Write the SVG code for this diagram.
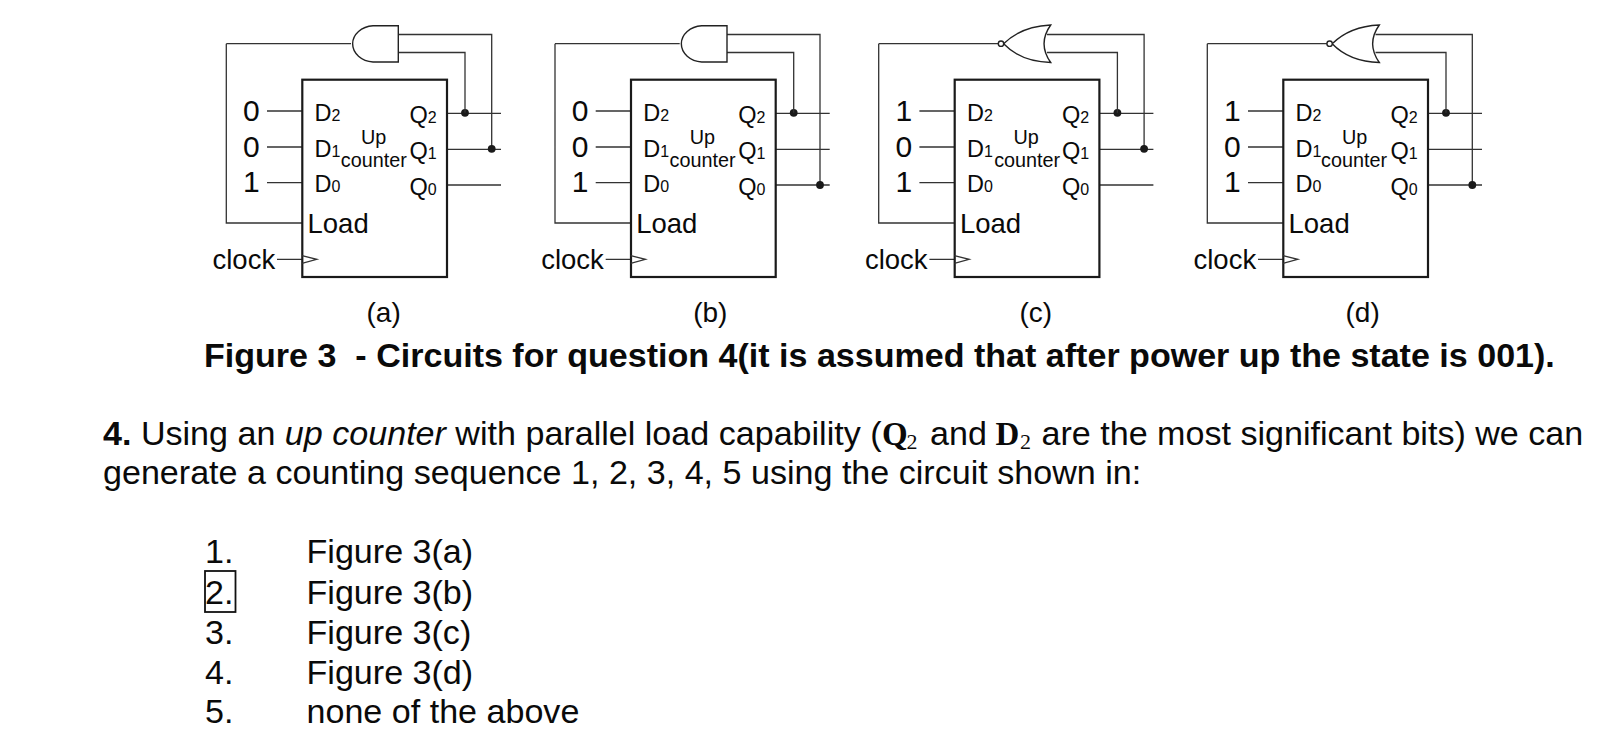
<svg xmlns="http://www.w3.org/2000/svg" width="1615" height="738" viewBox="0 0 1615 738">
<style>
text{font-family:"Liberation Sans",Arial,sans-serif;fill:#0a0a0a}
.w{fill:none;stroke:#333;stroke-width:1.3}
.g{fill:#fff;stroke:#222;stroke-width:1.4}
.box{fill:#fff;stroke:#1a1a1a;stroke-width:2.2}
.dot{fill:#1a1a1a}
.bit{font-size:30px}
.pin{font-size:23.5px}
.pin tspan{font-size:16px}
.load{font-size:27.5px}
.mid{font-size:19.8px}
.cap{font-size:28px}
.title{font-size:34.05px;font-weight:700}
.body{font-size:34.1px}
.ser{font-family:"Liberation Serif","Times New Roman",serif;font-weight:700;font-size:33px}
.sub{font-family:"Liberation Serif","Times New Roman",serif;font-size:22px}
</style>
<defs>
<g id="wires-common">
<path class="w" d="M277 259.3H302M267 111H302M267 147H302M267 182.7H302M447 113.3H501M447 149.3H501M447 185H501M302 223H226.3V43.7"/>
<circle class="dot" cx="465" cy="112.8" r="3.9"/>
</g>
<path id="and-gate" class="g" d="M398.3 25.7H373A22 18.2 0 0 0 373 62H398.3Z"/>
<path id="nor-gate" class="g" d="M351.2 43.8C362 33 377 26 398.3 25Q385 43.7 398.3 62.5C377 62 362 55 351.2 43.8Z"/>
</defs>

<g id="connectors">
<g><use href="#wires-common"/><path class="w" d="M226.3 43.7H351M398 34.5H491.7V148.8M398 52.5H465V112.8"/><circle class="dot" cx="491.7" cy="148.8" r="3.9"/></g>
<g transform="translate(328.7,0)"><use href="#wires-common"/><path class="w" d="M226.3 43.7H351M398 34.5H491.3V185M398 52.5H465V112.8"/><circle class="dot" cx="491.3" cy="185" r="3.9"/></g>
<g transform="translate(652.4,0)"><use href="#wires-common"/><path class="w" d="M226.3 43.7H346M394.5 34.5H491.7V148.8M394.5 52.5H465V112.8"/><circle class="dot" cx="491.7" cy="148.8" r="3.9"/></g>
<g transform="translate(981,0)"><use href="#wires-common"/><path class="w" d="M226.3 43.7H346M394.5 34.5H491.3V185M394.5 52.5H465V112.8"/><circle class="dot" cx="491.3" cy="185" r="3.9"/></g>
</g>

<g id="gate-a"><use href="#and-gate"/></g>
<g id="gate-b" transform="translate(328.7,0)"><use href="#and-gate"/></g>
<g id="gate-c" transform="translate(652.4,0)"><use href="#nor-gate"/><circle class="g" cx="348.6" cy="43.7" r="2.7"/></g>
<g id="gate-d" transform="translate(981,0)"><use href="#nor-gate"/><circle class="g" cx="348.6" cy="43.7" r="2.7"/></g>

<g id="counter-a">
<rect class="box" x="302.3" y="79.7" width="144.7" height="197.3"/>
<path class="w" d="M302 255.7L316.7 259.3L302 263.3"/>
<text class="bit" x="243" y="120.5">0</text><text class="bit" x="243" y="156.5">0</text><text class="bit" x="243" y="192">1</text>
<text class="pin" x="314.6" y="120.7">D<tspan>2</tspan></text><text class="pin" x="314.6" y="156.7">D<tspan>1</tspan></text><text class="pin" x="314.6" y="192.4">D<tspan>0</tspan></text>
<text class="pin" x="409.5" y="123">Q<tspan>2</tspan></text><text class="pin" x="409.5" y="159">Q<tspan>1</tspan></text><text class="pin" x="409.5" y="195">Q<tspan>0</tspan></text>
<text class="mid" x="361" y="144">Up</text><text class="mid" x="340.8" y="166.7">counter</text>
<text class="load" x="307.5" y="232.7">Load</text><text class="load" x="212.5" y="269">clock</text>
<text class="cap" x="366.5" y="321.7">(a)</text>
</g>
<g id="counter-b" transform="translate(328.7,0)">
<rect class="box" x="302.3" y="79.7" width="144.7" height="197.3"/>
<path class="w" d="M302 255.7L316.7 259.3L302 263.3"/>
<text class="bit" x="243" y="120.5">0</text><text class="bit" x="243" y="156.5">0</text><text class="bit" x="243" y="192">1</text>
<text class="pin" x="314.6" y="120.7">D<tspan>2</tspan></text><text class="pin" x="314.6" y="156.7">D<tspan>1</tspan></text><text class="pin" x="314.6" y="192.4">D<tspan>0</tspan></text>
<text class="pin" x="409.5" y="123">Q<tspan>2</tspan></text><text class="pin" x="409.5" y="159">Q<tspan>1</tspan></text><text class="pin" x="409.5" y="195">Q<tspan>0</tspan></text>
<text class="mid" x="361" y="144">Up</text><text class="mid" x="340.8" y="166.7">counter</text>
<text class="load" x="307.5" y="232.7">Load</text><text class="load" x="212.5" y="269">clock</text>
<text class="cap" x="364.5" y="321.7">(b)</text>
</g>
<g id="counter-c" transform="translate(652.4,0)">
<rect class="box" x="302.3" y="79.7" width="144.7" height="197.3"/>
<path class="w" d="M302 255.7L316.7 259.3L302 263.3"/>
<text class="bit" x="243" y="120.5">1</text><text class="bit" x="243" y="156.5">0</text><text class="bit" x="243" y="192">1</text>
<text class="pin" x="314.6" y="120.7">D<tspan>2</tspan></text><text class="pin" x="314.6" y="156.7">D<tspan>1</tspan></text><text class="pin" x="314.6" y="192.4">D<tspan>0</tspan></text>
<text class="pin" x="409.5" y="123">Q<tspan>2</tspan></text><text class="pin" x="409.5" y="159">Q<tspan>1</tspan></text><text class="pin" x="409.5" y="195">Q<tspan>0</tspan></text>
<text class="mid" x="361" y="144">Up</text><text class="mid" x="341.8" y="166.7">counter</text>
<text class="load" x="307.5" y="232.7">Load</text><text class="load" x="212.5" y="269">clock</text>
<text class="cap" x="367" y="321.7">(c)</text>
</g>
<g id="counter-d" transform="translate(981,0)">
<rect class="box" x="302.3" y="79.7" width="144.7" height="197.3"/>
<path class="w" d="M302 255.7L316.7 259.3L302 263.3"/>
<text class="bit" x="243" y="120.5">1</text><text class="bit" x="243" y="156.5">0</text><text class="bit" x="243" y="192">1</text>
<text class="pin" x="314.6" y="120.7">D<tspan>2</tspan></text><text class="pin" x="314.6" y="156.7">D<tspan>1</tspan></text><text class="pin" x="314.6" y="192.4">D<tspan>0</tspan></text>
<text class="pin" x="409.5" y="123">Q<tspan>2</tspan></text><text class="pin" x="409.5" y="159">Q<tspan>1</tspan></text><text class="pin" x="409.5" y="195">Q<tspan>0</tspan></text>
<text class="mid" x="361" y="144">Up</text><text class="mid" x="340" y="166.7">counter</text>
<text class="load" x="307.5" y="232.7">Load</text><text class="load" x="212.5" y="269">clock</text>
<text class="cap" x="364.5" y="321.7">(d)</text>
</g>

<g id="caption"><text class="title" x="204" y="366.7" xml:space="preserve">Figure 3  - Circuits for question 4(it is assumed that after power up the state is 001).</text></g>
<g id="question">
<text class="body" x="103" y="445"><tspan font-weight="700">4.</tspan> Using an <tspan font-style="italic">up counter</tspan> with parallel load capability (<tspan class="ser" x="882">Q</tspan><tspan class="sub" x="906.5" y="448.7">2</tspan> <tspan x="930" y="445">and</tspan> <tspan class="ser" x="995.5">D</tspan><tspan class="sub" x="1020" y="448.7">2</tspan> <tspan x="1041.5" y="445">are the most significant bits) we can</tspan></text>
<text class="body" x="103" y="483.5">generate a counting sequence 1, 2, 3, 4, 5 using the circuit shown in:</text>
</g>
<g id="options">
<rect x="205" y="571" width="30.5" height="41" fill="none" stroke="#111" stroke-width="1.8"/>
<text class="body" x="205" y="563.3">1.</text><text class="body" x="306.5" y="563.3">Figure 3(a)</text>
<text class="body" x="205" y="603.5">2.</text><text class="body" x="306.5" y="603.5">Figure 3(b)</text>
<text class="body" x="205" y="644">3.</text><text class="body" x="306.5" y="644">Figure 3(c)</text>
<text class="body" x="205" y="684">4.</text><text class="body" x="306.5" y="684">Figure 3(d)</text>
<text class="body" x="205" y="722.7">5.</text><text class="body" x="306.5" y="722.7">none of the above</text>
</g>
</svg>
